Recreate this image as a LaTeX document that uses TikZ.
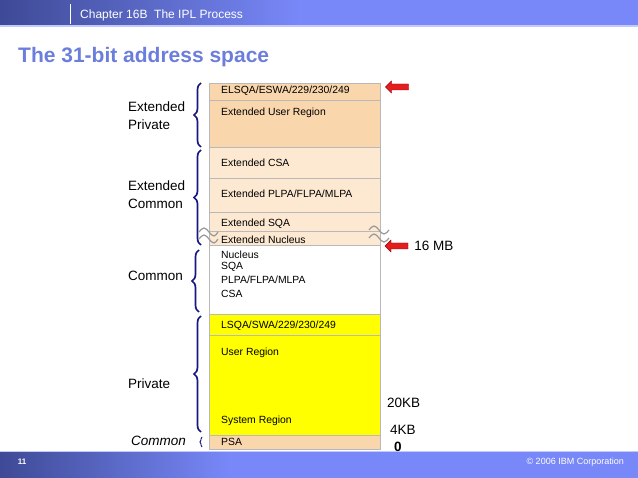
\documentclass[tikz,border=0pt]{standalone}
\usepackage{fontspec}
\setmainfont{Liberation Sans}
\usetikzlibrary{calc,positioning,decorations.pathreplacing,shapes.arrows}

\definecolor{ibmblue}{RGB}{120,136,248}
\definecolor{ibmdark}{RGB}{62,74,150}
\definecolor{titleblue}{RGB}{108,126,220}
\definecolor{peach}{RGB}{250,214,172}
\definecolor{lightpeach}{RGB}{253,233,210}
\definecolor{memyellow}{RGB}{255,255,0}
\definecolor{bracenavy}{RGB}{24,24,130}
\definecolor{arrowred}{RGB}{226,30,30}

\begin{document}
\begin{tikzpicture}[x=1pt,y=-1pt,
    region/.style={draw=gray!55, line width=0.8pt, anchor=north west, minimum width=171pt, inner sep=0pt},
    memtext/.style={anchor=west, inner sep=0pt, font=\fontsize{10.4}{12}\selectfont},
    sidetext/.style={anchor=west, inner sep=0pt, align=left, font=\fontsize{13.5}{18}\selectfont},
    curly/.style={draw=bracenavy, line width=1.7pt, decorate, decoration={brace, amplitude=7pt}},
    wave/.style={draw=gray!80, line width=1.2pt},
    marker/.style={single arrow, shape border rotate=180, fill=arrowred, draw=red!60!black,
        minimum height=23pt, minimum width=12pt, single arrow head extend=3pt,
        inner xsep=0pt, inner ysep=2.8pt, text width=0pt, text height=0pt, text depth=0pt}]

            \useasboundingbox (0,0) rectangle (638,478);

            % header and footer bands
            \shade [left color=ibmdark, right color=ibmblue] (0,0) rectangle (300,26);
            \fill [ibmblue] (299,0) rectangle (638,26);
            \draw [white!55!ibmblue, line width=1.5pt] (0,26) -- (638,26);
            \draw [white, line width=0.8pt] (70,4) -- (70,24);
            \node (chapter) [anchor=west, inner sep=0pt, text=white, font=\fontsize{12}{14}\selectfont] at (80,15) {Chapter 16B\ \ The IPL Process};

            \shade [left color=ibmdark, right color=ibmblue] (0,452) rectangle (230,478);
            \fill [ibmblue] (229,452) rectangle (638,478);
            \draw [white!55!ibmblue, line width=1pt] (0,452) -- (638,452);
            \node (page) [inner sep=0pt, text=white, font=\bfseries\fontsize{8}{10}\selectfont] at (22,462) {11};
            \node (copyright) [anchor=east, inner sep=0pt, text=white, font=\fontsize{9}{11}\selectfont] at (624,462) {© 2006 IBM Corporation};

            \node (title) [anchor=west, inner sep=0pt, text=titleblue, font=\bfseries\fontsize{21}{24}\selectfont] at (18,57) {The 31-bit address space};

            % the address space
            \node (elsqa) [region, fill=peach, minimum height=17pt] at (209,83) {};
            \node (euser) [region, fill=peach, minimum height=47pt] at (209,100) {};
            \node (ecsa) [region, fill=lightpeach, minimum height=31pt] at (209,147) {};
            \node (eplpa) [region, fill=lightpeach, minimum height=34pt] at (209,178) {};
            \node (esqa) [region, fill=lightpeach, minimum height=19pt] at (209,212) {};
            \node (enuc) [region, fill=lightpeach, minimum height=14pt] at (209,231) {};
            \node (common) [region, fill=white, minimum height=69pt] at (209,245) {};
            \node (lsqa) [region, fill=memyellow, minimum height=21pt] at (209,314) {};
            \node (user) [region, fill=memyellow, minimum height=100pt] at (209,335) {};
            \node (psa) [region, fill=peach, minimum height=14pt] at (209,435) {};

            \node (elsqat) [memtext] at (221,91) {ELSQA/ESWA/229/230/249};
            \node (eusert) [memtext] at (221,113) {Extended User Region};
            \node (ecsat) [memtext] at (221,163) {Extended CSA};
            \node (eplpat) [memtext] at (221,194) {Extended PLPA/FLPA/MLPA};
            \node (esqat) [memtext] at (221,224) {Extended SQA};
            \node (enuct) [memtext] at (221,240) {Extended Nucleus};
            \node (nuct) [memtext] at (221,255) {Nucleus};
            \node (sqat) [memtext] at (221,267) {SQA};
            \node (plpat) [memtext] at (221,280) {PLPA/FLPA/MLPA};
            \node (csat) [memtext] at (221,294) {CSA};
            \node (lsqat) [memtext] at (221,326) {LSQA/SWA/229/230/249};
            \node (usert) [memtext] at (221,353) {User Region};
            \node (syst) [memtext] at (221,421) {System Region};
            \node (psat) [memtext] at (221,442) {PSA};

            % braces and their names
            \draw [curly] (201,147) -- (201,83);
            \draw [curly] (201,245) -- (201,150);
            \draw [curly] (199,312) -- (199,250);
            \draw [curly] (201,432) -- (201,316);
            \draw [curly, line width=0.9pt, decoration={brace, amplitude=2pt}] (202,447) -- (202,437);

            \node (extpriv) [sidetext] at (128,116) {Extended\\Private};
            \node (extcomm) [sidetext] at (128,195) {Extended\\Common};
            \node (comm) [sidetext] at (128,276) {Common};
            \node (priv) [sidetext] at (128,384) {Private};
            \node (psacomm) [sidetext, font=\itshape\fontsize{13.5}{18}\selectfont] at (131,441) {Common};

            % the 16 MB line breaks
            \draw [wave] (199,232) sin (204,228) cos (209,232) sin (214,236) cos (218,232);
            \draw [wave] (199,239) sin (204,235) cos (209,239) sin (214,243) cos (218,239);
            \draw [wave] (369,230) sin (374,226) cos (379,230) sin (384,234) cos (389,230);
            \draw [wave] (369,238) sin (374,234) cos (379,238) sin (384,242) cos (389,238);

            % markers and addresses
            \node (toparrow) [marker] at (398.5,87) {};
            \node (midarrow) [marker] at (398,246) {};
            \node (sixteen) [right=6pt of midarrow, inner sep=0pt, font=\fontsize{13.5}{16}\selectfont] {16 MB};
            \node (twenty) [anchor=west, inner sep=0pt, font=\fontsize{13.5}{16}\selectfont] at (387,403) {20KB};
            \node (four) [anchor=west, inner sep=0pt, font=\fontsize{13.5}{16}\selectfont] at (390,430) {4KB};
            \node (zero) [inner sep=0pt, font=\bfseries\fontsize{13.5}{16}\selectfont] at (398,447) {0};

        \end{tikzpicture}
\end{document}
